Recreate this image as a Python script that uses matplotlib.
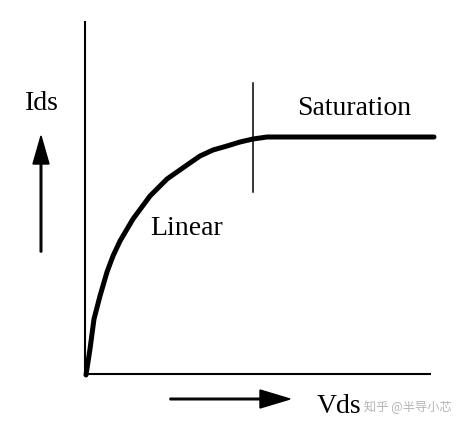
import matplotlib
matplotlib.use("Agg")
import matplotlib.pyplot as plt

# curve (units: pixels right of / above the origin)
vds = [0, 4, 8, 14, 21, 27, 34, 47, 64, 81, 101, 114, 127, 141, 154, 167, 181, 348]
ids = [0, 26, 56, 79, 103, 119, 134, 156, 179, 196, 210, 219, 225, 229, 233, 236, 238, 238]

vds_sat = 167          # boundary between linear and saturation regions
sat_marker = [183, 292]
x_axis_end = 345
y_axis_end = 354

SERIF = "Liberation Serif"

fig = plt.figure(figsize=(4.57, 4.27), dpi=100)
ax = fig.add_axes([0, 0, 1, 1])
ax.set_xlim(-86, 371)
ax.set_ylim(-51, 376)
ax.axis("off")

# axes drawn as plain lines
ax.plot([-1, -1], [-1, y_axis_end], color="black", lw=1.5, solid_capstyle="butt")
ax.plot([-1, x_axis_end], [1, 1], color="black", lw=1.5, solid_capstyle="butt")

ax.plot(vds, ids, color="black", lw=3.6, solid_capstyle="round", solid_joinstyle="round")
ax.plot([vds_sat, vds_sat], sat_marker, color="black", lw=1.1)

# direction arrows
ax.arrow(-45, 123, 0, 116, width=1.6, head_width=16, head_length=28,
         length_includes_head=True, color="black")
ax.arrow(84, -24, 120, 0, width=1.6, head_width=18, head_length=30,
         length_includes_head=True, color="black")

ax.text(-61, 266, "Ids", fontsize=20, family=SERIF, va="baseline")
ax.text(64, 141, "Linear", fontsize=20, family=SERIF, va="baseline")
ax.text(211, 261, "Saturation", fontsize=20, family=SERIF, va="baseline")
ax.text(231, -37, "Vds", fontsize=20, family=SERIF, va="baseline")
ax.text(278, -35, "知乎 @半导小芯", fontsize=8.8, color="#b4b4b4", va="baseline",
        family=["Noto Sans CJK SC", "DejaVu Sans"], zorder=5)

fig.savefig("out.png", dpi=100)
